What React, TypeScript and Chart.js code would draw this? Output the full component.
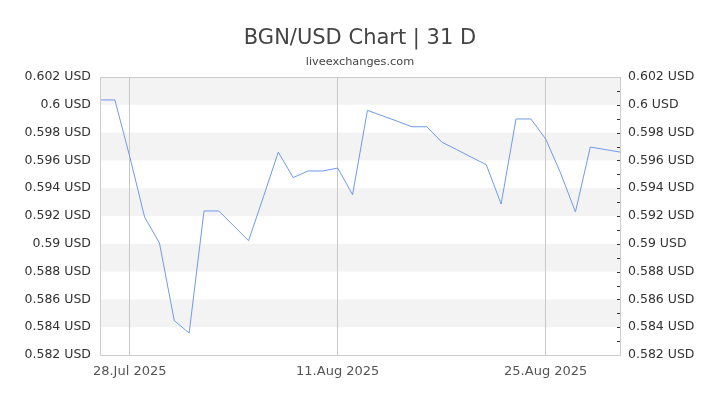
import React, { useEffect, useRef } from "react";
import { Chart, registerables } from "chart.js";

Chart.register(...registerables);

const dates: string[] = [
  "26.Jul 2025", "27.Jul 2025", "28.Jul 2025", "29.Jul 2025", "30.Jul 2025", "31.Jul 2025",
  "1.Aug 2025", "2.Aug 2025", "3.Aug 2025", "4.Aug 2025", "5.Aug 2025", "6.Aug 2025",
  "7.Aug 2025", "8.Aug 2025", "9.Aug 2025", "10.Aug 2025", "11.Aug 2025", "12.Aug 2025",
  "13.Aug 2025", "14.Aug 2025", "15.Aug 2025", "16.Aug 2025", "17.Aug 2025", "18.Aug 2025",
  "19.Aug 2025", "20.Aug 2025", "21.Aug 2025", "22.Aug 2025", "23.Aug 2025", "24.Aug 2025",
  "25.Aug 2025", "26.Aug 2025", "27.Aug 2025", "28.Aug 2025", "29.Aug 2025", "30.Aug 2025",
];

const rates: number[] = [
  0.60035, 0.60035, 0.59629, 0.59193, 0.59006, 0.58447,
  0.58358, 0.59236, 0.59236, 0.59129, 0.59022, 0.59338,
  0.5966, 0.59476, 0.59524, 0.59524, 0.59545, 0.59353,
  0.5996, 0.59921, 0.59882, 0.59842, 0.59842, 0.59732,
  0.59678, 0.59623, 0.59569, 0.59286, 0.59898, 0.59898,
  0.59754, 0.59509, 0.59229, 0.59696, 0.59678, 0.5966,
];

const labeledDates: string[] = ["28.Jul 2025", "11.Aug 2025", "25.Aug 2025"];

const yMin = 0.582;
const yMax = 0.602;
const yStep = 0.002;
const minorStep = 0.001;

const titleText = "BGN/USD Chart | 31 D";
const subtitleText = "liveexchanges.com";

const FONT = '"DejaVu Sans", Verdana, sans-serif';

function fmt(v: number): string {
  return parseFloat(v.toFixed(3)).toString() + " USD";
}

const decorPlugin = {
  id: "decor",
  beforeDraw(chart: any) {
    const { ctx, chartArea } = chart;
    const y = chart.scales.y;
    ctx.save();
    ctx.fillStyle = "#f3f3f3";
    const n = Math.round((yMax - yMin) / yStep);
    for (let i = 0; i < n; i++) {
      if (i % 2 !== 0) continue;
      const top = yMax - i * yStep;
      const bot = top - yStep;
      const py1 = y.getPixelForValue(top);
      const py2 = y.getPixelForValue(bot);
      ctx.fillRect(chartArea.left, py1, chartArea.right - chartArea.left, py2 - py1);
    }
    ctx.restore();
  },
  afterDraw(chart: any) {
    const { ctx, chartArea } = chart;
    const y = chart.scales.y;
    ctx.save();
    ctx.strokeStyle = "#cccccc";
    ctx.lineWidth = 1;
    ctx.strokeRect(
      Math.round(chartArea.left) + 0.5,
      Math.round(chartArea.top) + 0.5,
      Math.round(chartArea.right - chartArea.left),
      Math.round(chartArea.bottom - chartArea.top)
    );
    ctx.strokeStyle = "#333333";
    const m = Math.round((yMax - yMin) / minorStep);
    for (let i = 1; i < m; i++) {
      const v = yMax - i * minorStep;
      const py = Math.round(y.getPixelForValue(v)) + 0.5;
      ctx.beginPath();
      ctx.moveTo(chartArea.right - 3, py);
      ctx.lineTo(chartArea.right, py);
      ctx.stroke();
    }
    ctx.fillStyle = "#444444";
    ctx.textAlign = "center";
    ctx.textBaseline = "middle";
    ctx.font = `21px ${FONT}`;
    ctx.fillText(titleText, chart.width / 2, 39);
    ctx.font = `11.3px ${FONT}`;
    ctx.fillText(subtitleText, chart.width / 2, 62);
    ctx.restore();
  },
};

export default function App() {
  const ref = useRef<HTMLCanvasElement | null>(null);

  useEffect(() => {
    if (!ref.current) return;
    const chart = new Chart(ref.current, {
      type: "line",
      data: {
        labels: dates,
        datasets: [
          {
            data: rates,
            borderColor: "#6e9be9",
            borderWidth: 1,
            pointRadius: 0,
            tension: 0,
            fill: false,
          },
        ],
      },
      options: {
        animation: false,
        responsive: false,
        events: [],
        layout: { padding: { top: 77, left: 0, right: 0, bottom: 0 } },
        plugins: {
          legend: { display: false },
          title: { display: false },
          tooltip: { enabled: false },
        },
        scales: {
          x: {
            type: "category",
            offset: false,
            border: { display: false },
            grid: {
              drawTicks: false,
              color: (c: any) =>
                labeledDates.includes(dates[c.index]) ? "#c8c8c8" : "rgba(0,0,0,0)",
              lineWidth: 1,
            },
            ticks: {
              autoSkip: false,
              maxRotation: 0,
              minRotation: 0,
              padding: 9,
              color: "#555555",
              font: { family: FONT, size: 13 },
              callback: (_v: any, i: number) =>
                labeledDates.includes(dates[i]) ? dates[i] : "",
            },
            afterFit: (s: any) => {
              s.height = 50;
            },
          },
          y: {
            position: "left",
            min: yMin,
            max: yMax,
            border: { display: false },
            grid: { display: false, drawTicks: false },
            ticks: {
              stepSize: yStep,
              padding: 9,
              color: "#333333",
              font: { family: FONT, size: 12.5 },
              callback: (v: any) => fmt(Number(v)),
            },
            afterFit: (s: any) => {
              s.width = 100;
            },
          },
          y2: {
            position: "right",
            min: yMin,
            max: yMax,
            border: { display: false },
            grid: { display: false, drawTicks: false },
            ticks: {
              stepSize: yStep,
              padding: 8,
              color: "#333333",
              font: { family: FONT, size: 12.5 },
              callback: (v: any) => fmt(Number(v)),
            },
            afterFit: (s: any) => {
              s.width = 100;
            },
          },
        },
      } as any,
      plugins: [decorPlugin],
    });
    return () => chart.destroy();
  }, []);

  return (
    <div style={{ position: "fixed", left: 0, top: 0, width: 720, height: 405, background: "#fff" }}>
      <canvas ref={ref} width={720} height={405} style={{ width: 720, height: 405, display: "block" }} />
    </div>
  );
}
